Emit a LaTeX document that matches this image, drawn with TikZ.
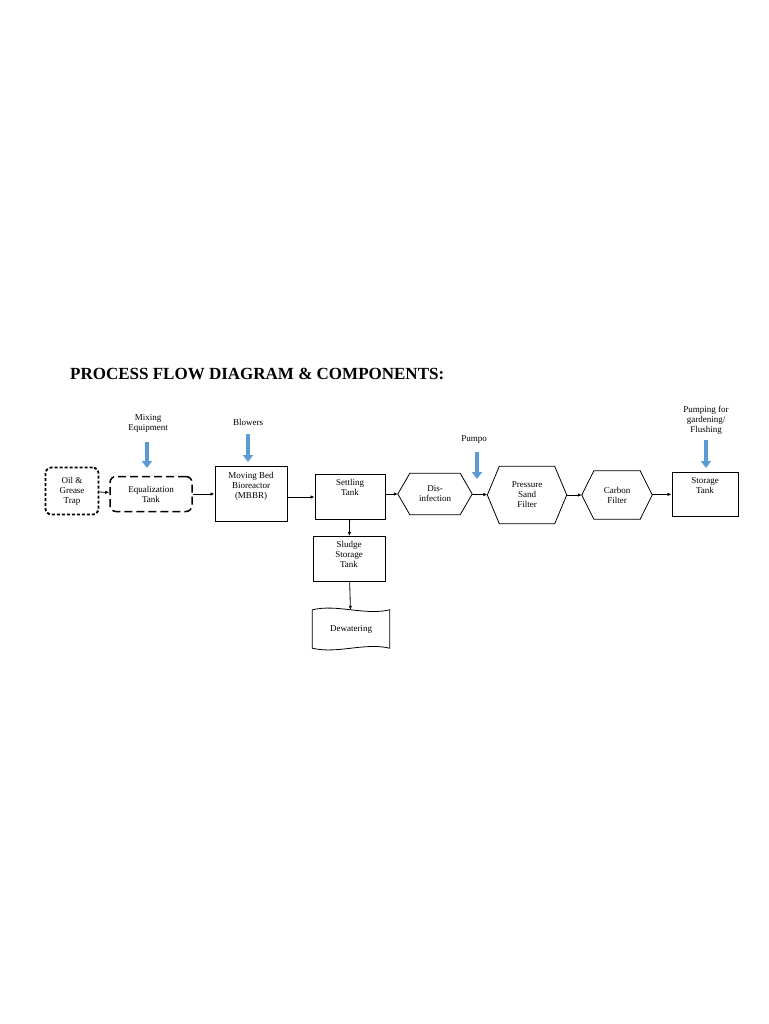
\documentclass[tikz,border=0pt]{standalone}
\usepackage{fontspec}
\setmainfont{Liberation Serif}
\usetikzlibrary{arrows.meta,calc}
\definecolor{flowblue}{RGB}{91,155,213}
\begin{document}
\begin{tikzpicture}[x=1pt,y=-1pt,
  lbl/.style={font=\fontsize{9}{10}\selectfont, align=center, inner sep=0pt},
  boxn/.style={draw, line width=1pt, lbl},
  hexn/.style={lbl, minimum height=#1},
  flow/.style={-{Latex[length=4pt,width=3.5pt]}, line width=0.8pt},
  feed/.style={draw=flowblue, fill=flowblue}]
\useasboundingbox (0,0) rectangle (768,1024);
\fill[white] (0,0) rectangle (768,1024);
\node[anchor=west, font=\fontsize{17}{19}\selectfont\bfseries, inner sep=0pt] (title) at (70,374) {PROCESS FLOW DIAGRAM \& COMPONENTS:};

\node[boxn, dashed, dash pattern=on 3pt off 2pt, line width=1.8pt, rounded corners=6pt, minimum width=53pt, minimum height=47pt] (trap) at (72,491) {Oil \&\\Grease\\Trap};
\node[boxn, dash pattern=on 8pt off 4pt, line width=1.5pt, rounded corners=6pt, minimum width=82pt, minimum height=35pt] (eq) at (151,494) {Equalization\\Tank};
\node[boxn, minimum width=72pt, minimum height=55pt] (mbbr) at (251,494) {};
\node[lbl, anchor=north] (mbbrt) at (251,472) {Moving Bed\\Bioreactor\\(MBBR)};
\node[boxn, minimum width=70pt, minimum height=45pt] (settle) at (350,497) {};
\node[lbl, anchor=north] (settlet) at (350,479) {Settling\\Tank};
\node[boxn, minimum width=72pt, minimum height=45pt] (sludge) at (349,559) {};
\node[lbl, anchor=north] (sludget) at (349,541) {Sludge\\Storage\\Tank};
\node[lbl, minimum width=77pt, minimum height=38pt] (dew) at (351,629) {Dewatering};
\draw[line width=0.8pt] (dew.north west) .. controls ($(dew.north west)+(25,-6)$) and ($(dew.north east)+(-25,6)$) .. (dew.north east)
  -- (dew.south east) .. controls ($(dew.south east)+(-25,-6)$) and ($(dew.south west)+(25,6)$) .. (dew.south west) -- cycle;

\node[hexn=41pt, minimum width=74pt] (dis) at (435,494) {Dis-\\infection};
\node[hexn=57pt, minimum width=79pt] (psf) at (527,495) {Pressure\\Sand\\Filter};
\node[hexn=48pt, minimum width=70pt] (cf) at (617,495) {Carbon\\Filter};
\foreach \n in {dis,psf,cf}{
  \draw[line width=0.8pt] (\n.west) -- ($(\n.north west)+(12,0)$) -- ($(\n.north east)+(-12,0)$) -- (\n.east)
    -- ($(\n.south east)+(-12,0)$) -- ($(\n.south west)+(12,0)$) -- cycle;}
\node[boxn, minimum width=66pt, minimum height=44pt] (store) at (705,494) {};
\node[lbl, anchor=north] (storet) at (705,477) {Storage\\Tank};

\draw[flow] (trap) -- (eq);
\draw[flow] (eq.east) -- (mbbr.west);
\draw[flow] (mbbr.east |- settle) -- (settle.west);
\draw[flow] (settle.east |- dis) -- (dis.west);
\draw[flow] (dis) -- (psf);
\draw[flow] (psf) -- (cf);
\draw[flow] (cf) -- (store);
\draw[flow] (settle) -- (sludge);
\draw[flow] (sludge) -- (dew);

\node[lbl] (mix) at (148,423) {Mixing\\Equipment};
\node[lbl] (blow) at (248,422) {Blowers};
\node[lbl] (pump) at (474,440) {Pumpo};
\node[lbl] (pfor) at (706,420) {Pumping for\\gardening/\\Flushing};
\coordinate (mixa) at (147,442); \coordinate (mixb) at (147,468);
\coordinate (blowa) at (248,434); \coordinate (blowb) at (248,462);
\coordinate (pumpa) at (477,452); \coordinate (pumpb) at (477,479);
\coordinate (pfa) at (706,440); \coordinate (pfb) at (706,468);
\foreach \a/\b in {mixa/mixb,blowa/blowb,pumpa/pumpb,pfa/pfb}{
  \draw[flowblue, line width=4pt, -{Triangle[length=7pt,width=10pt]}] (\a) -- (\b);}
\end{tikzpicture}
\end{document}
